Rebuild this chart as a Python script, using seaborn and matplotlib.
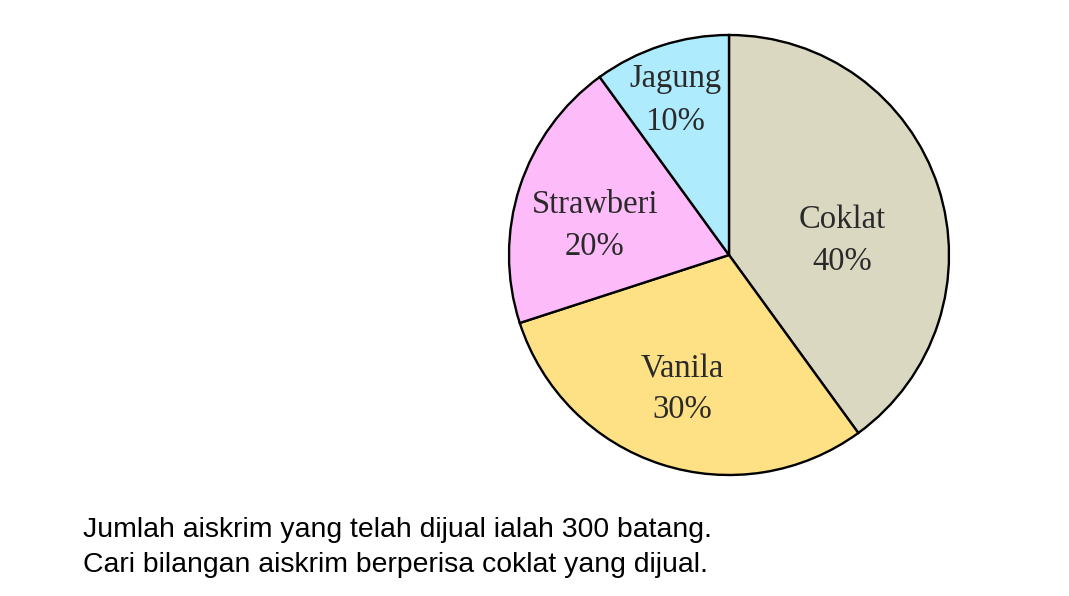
import matplotlib
matplotlib.use("Agg")
import matplotlib.pyplot as plt
import seaborn as sns

# data
flavours = ['Coklat', 'Vanila', 'Strawberi', 'Jagung']
percent = [40, 30, 20, 10]
colours = ['#DBD8C2', '#FEE085', '#FDBBF9', '#AEEBFC']
question = ['Jumlah aiskrim yang telah dijual ialah 300 batang.',
            'Cari bilangan aiskrim berperisa coklat yang dijual.']

sns.set_theme(style='white')

W, H = 1069, 596
fig = plt.figure(figsize=(W / 100, H / 100), dpi=100)
ax = fig.add_axes([0, 0, 1, 1])

ax.pie(percent, colors=colours, startangle=90, counterclock=False,
       center=(729, H - 255), radius=220,
       wedgeprops=dict(edgecolor='black', linewidth=1.7))
ax.set_xlim(0, W)
ax.set_ylim(0, H)
ax.set_aspect('equal')
ax.axis('off')

# label baselines in picture pixels (x, name baseline, pct baseline)
label_pos = [(842, 228, 270), (682, 377, 418), (595, 213, 255), (675, 87, 130)]
for name, p, (x, y1, y2) in zip(flavours, percent, label_pos):
    ax.text(x, H - y1, name, ha='center', va='baseline', fontsize=23.5,
            family='Liberation Serif', color='#2a2a2a')
    ax.text(x, H - y2, f'{p}%', ha='center', va='baseline', fontsize=23.5,
            family='Liberation Serif', color='#2a2a2a')

for line, yb in zip(question, [537, 572]):
    ax.text(83, H - yb, line, ha='left', va='baseline', fontsize=20.4,
            family='Liberation Sans', color='black')

fig.savefig('out.png', dpi=100)
